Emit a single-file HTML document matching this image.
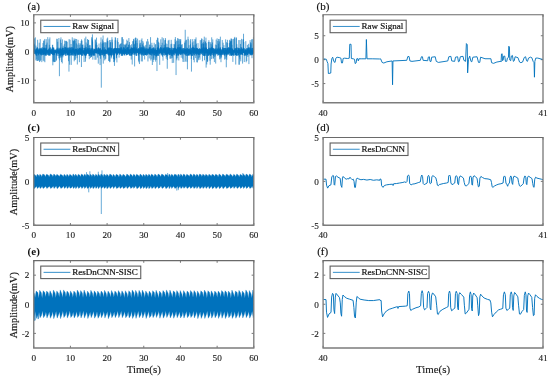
<!DOCTYPE html>
<html lang="en">
<head>
<meta charset="utf-8">
<title>Signal denoising comparison</title>
<style>
html,body{margin:0;padding:0;background:#fff;}
body{width:550px;height:379px;overflow:hidden;font-family:"Liberation Serif","DejaVu Serif",serif;}
svg{display:block;}
</style>
</head>
<body>
<svg width="550" height="379" viewBox="0 0 550 379">
<rect width="550" height="379" fill="#fff"/>
<g id="panel-a">
<clipPath id="cp-a"><rect x="33.75" y="14.7" width="220.05" height="88"/></clipPath>
<path d="M33.75 102.7v-2.2M33.75 14.7v2.2M70.42 102.7v-2.2M70.42 14.7v2.2M107.1 102.7v-2.2M107.1 14.7v2.2M143.78 102.7v-2.2M143.78 14.7v2.2M180.45 102.7v-2.2M180.45 14.7v2.2M217.13 102.7v-2.2M217.13 14.7v2.2M253.8 102.7v-2.2M253.8 14.7v2.2M33.75 80.21h2.2M253.8 80.21h-2.2M33.75 51.55h2.2M253.8 51.55h-2.2M33.75 22.9h2.2M253.8 22.9h-2.2" stroke="#777" stroke-width="1" fill="none"/>
<path clip-path="url(#cp-a)" fill="none" stroke="#0072BD" stroke-width="0.62" d="M34.1 51.55V43.57M34.48 51.55V38.37M34.51 51.55V44.52M35.35 51.55V37.36M35.82 51.55V60.36M35.98 51.55V45.59M36.75 51.55V59.36M36.93 51.55V60.95M37.44 51.55V61M37.63 51.55V39.77M38.63 51.55V60.31M38.8 51.55V60.8M39.25 51.55V42.69M39.56 51.55V62.04M40.23 51.55V39.12M40.36 51.55V61.19M40.9 51.55V60M41.82 51.55V62.14M42.96 51.55V43.07M43.18 51.55V60.71M43.58 51.55V40.72M44.05 51.55V61.3M44.22 51.55V40.48M44.75 51.55V38.94M44.87 51.55V62.23M45.81 51.55V44.96M46.22 51.55V39.17M46.42 51.55V44.54M47.02 51.55V42.52M47.75 51.55V37.15M49 51.55V39.27M49.32 51.55V44.84M49.87 51.55V37.37M52.44 51.55V44.86M52.74 51.55V44.83M52.82 51.55V65.31M53.05 51.55V61.65M53.67 51.55V61.53M53.96 51.55V62.13M54.5 51.55V62.05M55.25 51.55V61.98M56.16 51.55V61.12M56.44 51.55V59.88M56.91 51.55V38.7M57.14 51.55V39.11M57.72 51.55V41.79M58.81 51.55V58.43M58.9 51.55V38M59.42 51.55V76.19M59.76 51.55V60.3M60.02 51.55V57.93M60.32 51.55V57.29M60.52 51.55V39.53M60.95 51.55V37.38M61.24 51.55V42.92M61.49 51.55V62.06M61.74 51.55V57.39M62.25 51.55V63.4M62.36 51.55V39.37M62.92 51.55V57.29M63.15 51.55V45.71M64.28 51.55V44.15M64.74 51.55V40.5M65.37 51.55V40.94M66.31 51.55V41.34M66.65 51.55V40.8M67.19 51.55V41.87M68.49 51.55V61.21M68.96 51.55V71.61M69.1 51.55V39.12M69.67 51.55V64.72M70.05 51.55V39.71M71.05 51.55V44.01M71.26 51.55V64.92M72.25 51.55V37.31M72.82 51.55V40.34M73.59 51.55V41.16M73.79 51.55V40.65M74.09 51.55V38.37M74.19 51.55V61.33M74.5 51.55V39.65M74.84 51.55V60.09M74.98 51.55V41M75.34 51.55V59.67M75.6 51.55V38.8M76.39 51.55V43.45M76.63 51.55V39.01M77.03 51.55V58.21M77.33 51.55V64.5M77.82 51.55V44.58M78.1 51.55V39.83M78.93 51.55V43.09M79.4 51.55V62.19M79.81 51.55V44.72M80.33 51.55V43.4M81.11 51.55V40.94M81.43 51.55V67.02M81.55 51.55V39.36M82.02 51.55V40.61M82.19 51.55V44.97M82.6 51.55V44.84M82.96 51.55V44.48M84.08 51.55V62.03M84.79 51.55V38.45M85.15 51.55V45.43M85.48 51.55V61.7M85.69 51.55V58.26M85.83 51.55V36.65M86.14 51.55V42.44M87.36 51.55V43.85M87.57 51.55V39M88.16 51.55V39.89M88.63 51.55V40.03M88.97 51.55V45.81M89.29 51.55V59.2M89.62 51.55V44.87M90.2 51.55V45.22M90.49 51.55V57.89M91.17 51.55V57.08M91.46 51.55V57.03M91.8 51.55V37.12M92.03 51.55V38.45M92.43 51.55V34.36M92.44 51.55V40.1M92.63 51.55V41.73M92.85 51.55V59.66M94.98 51.55V59.75M95.18 51.55V39.32M95.41 51.55V40.2M95.69 51.55V44.48M96 51.55V59.71M96.48 51.55V37.62M96.63 51.55V42.38M97.01 51.55V44.88M97.6 51.55V57.65M98.29 51.55V63.67M99.02 51.55V43.52M100.09 51.55V65.08M100.46 51.55V58.8M100.84 51.55V42.35M101.03 51.55V37.42M101.31 51.55V87.66M102.19 51.55V43.99M102.45 51.55V39.46M102.75 51.55V42.84M103.07 51.55V35.5M103.15 51.55V41.37M103.25 51.55V63.63M103.6 51.55V57.56M103.88 51.55V43.02M104.24 51.55V42.06M104.69 51.55V60.44M105.22 51.55V59.4M105.5 51.55V42.3M105.83 51.55V58.73M106.27 51.55V42.44M107.04 51.55V38.58M107.33 51.55V40.76M107.65 51.55V37.55M107.98 51.55V41.18M108.77 51.55V60.97M109.07 51.55V60.77M109.43 51.55V40.07M109.7 51.55V62.23M109.97 51.55V61.71M110.29 51.55V42.67M110.63 51.55V42M110.86 51.55V39.98M111.21 51.55V58.45M111.43 51.55V57.21M111.94 51.55V37.21M112.27 51.55V39.56M112.34 51.55V42.4M113.41 51.55V58.94M113.69 51.55V62.14M114.08 51.55V58.85M114.33 51.55V61.75M114.44 51.55V65.88M114.78 51.55V60.29M115.1 51.55V40.21M115.21 51.55V37.25M115.61 51.55V37.72M116.33 51.55V58.37M116.55 51.55V57.75M116.9 51.55V62.4M117.21 51.55V40.4M117.68 51.55V38.07M118.17 51.55V42.01M119.09 51.55V57.61M119.45 51.55V44.65M120.21 51.55V43.6M120.69 51.55V43.99M121.29 51.55V43.17M121.77 51.55V37.22M122.46 51.55V37.15M123.23 51.55V39.22M123.72 51.55V44.3M124.66 51.55V44.54M125.16 51.55V45.03M125.36 51.55V45.37M125.94 51.55V43.87M126.23 51.55V43.47M126.82 51.55V39.65M127.63 51.55V40.85M128.5 51.55V44.92M128.86 51.55V38.07M129.09 51.55V44.36M129.53 51.55V42.09M130.4 51.55V45.23M131.23 51.55V59.58M131.59 51.55V44.26M132.21 51.55V64.53M132.81 51.55V41.15M133.25 51.55V41.29M133.58 51.55V38.88M133.87 51.55V39.54M134.35 51.55V44.46M134.61 51.55V66.45M134.73 51.55V43.68M135.13 51.55V38.13M135.47 51.55V41.11M135.69 51.55V37.42M135.99 51.55V38M136.24 51.55V40.38M137.05 51.55V43.11M137.56 51.55V38.63M138.59 51.55V60.71M138.85 51.55V62.31M139.25 51.55V40.28M139.44 51.55V64.06M139.83 51.55V43.36M140.11 51.55V44.88M140.69 51.55V42.76M141.18 51.55V39.74M141.3 51.55V61.38M141.94 51.55V38.37M142.35 51.55V61.47M142.55 51.55V44.4M142.85 51.55V40.99M143.26 51.55V42.6M143.55 51.55V45.75M144.65 51.55V59.51M144.83 51.55V45.76M145.83 51.55V44.87M146.5 51.55V41.43M147.63 51.55V38.99M147.95 51.55V61.47M148.24 51.55V41.5M149.24 51.55V58.43M149.58 51.55V44.69M150.08 51.55V44.51M150.56 51.55V37.15M150.89 51.55V60.5M151.13 51.55V59.22M151.86 51.55V42.77M152.09 51.55V45.23M152.34 51.55V64.99M153.13 51.55V62.07M153.38 51.55V59.98M153.76 51.55V58.42M154.16 51.55V42.74M154.87 51.55V59.75M155.23 51.55V44.58M155.63 51.55V61.65M155.78 51.55V44.09M156.16 51.55V59.99M156.38 51.55V57.17M156.77 51.55V39.88M156.98 51.55V71.04M157.48 51.55V37.61M158.02 51.55V38.15M158.43 51.55V45.42M158.61 51.55V41.73M158.92 51.55V42.89M159.71 51.55V64.86M160.78 51.55V39.3M161.25 51.55V45.13M162.11 51.55V37.22M162.18 51.55V42.75M162.53 51.55V56.83M163 51.55V60.65M163.36 51.55V38.24M164.13 51.55V44.78M164.72 51.55V40.19M165.01 51.55V44.73M165.36 51.55V37.99M165.48 51.55V39.67M165.93 51.55V43.34M166.21 51.55V58.74M166.41 51.55V56.83M167.05 51.55V43.94M167.25 51.55V68.74M167.42 51.55V59.97M168.23 51.55V40.52M169.01 51.55V39.82M170.05 51.55V58.72M170.32 51.55V58.64M170.93 51.55V44.2M171.21 51.55V39.83M171.55 51.55V58.44M171.8 51.55V43.7M172.25 51.55V63.04M172.61 51.55V57.73M173.66 51.55V62.82M174.02 51.55V43.98M174.44 51.55V44.44M175.06 51.55V39.2M175.36 51.55V37.08M175.61 51.55V42.13M176.05 51.55V75.05M176.39 51.55V40.67M176.63 51.55V58.64M176.8 51.55V60.3M177.18 51.55V58.18M177.53 51.55V38.15M177.97 51.55V40.84M178.12 51.55V44.84M178.55 51.55V38.63M178.8 51.55V60.48M179.13 51.55V44.05M179.81 51.55V39.1M180.04 51.55V39.35M180.27 51.55V41.31M180.75 51.55V39.3M181.06 51.55V44.9M181.2 51.55V57.75M181.73 51.55V44.6M182.17 51.55V44.15M182.69 51.55V58.68M182.96 51.55V61.89M184.03 51.55V61.98M184.7 51.55V42.84M185.01 51.55V41.4M185.22 51.55V29.77M185.64 51.55V61.65M186.12 51.55V40.16M186.28 51.55V39.69M186.99 51.55V61.77M187.42 51.55V69.32M188 51.55V36.67M188.17 51.55V39.12M189.07 51.55V45.2M190.23 51.55V40.37M190.47 51.55V44.23M190.72 51.55V39.01M191.27 51.55V59.16M191.45 51.55V71.61M192.31 51.55V42.41M192.73 51.55V39.17M193.2 51.55V45.35M193.45 51.55V59.9M193.85 51.55V41.33M194.21 51.55V62.34M194.8 51.55V39.13M195.11 51.55V44.84M195.58 51.55V39.45M195.71 51.55V58.09M196.01 51.55V37.39M196.5 51.55V43.59M196.75 51.55V62.28M197.43 51.55V62.41M198.03 51.55V43.11M198.29 51.55V58.55M198.63 51.55V60.22M199.55 51.55V57.52M199.96 51.55V59.73M200.25 51.55V40.17M201.21 51.55V40.1M201.51 51.55V44.09M201.64 51.55V38.3M202.04 51.55V38.96M202.42 51.55V61.28M202.75 51.55V43.3M203.01 51.55V43.48M203.28 51.55V41.9M203.52 51.55V43.93M203.9 51.55V39.77M204.29 51.55V36.65M204.5 51.55V60.25M204.85 51.55V43.29M205.25 51.55V41.36M205.59 51.55V41.84M205.94 51.55V37.64M206.12 51.55V67.6M206.41 51.55V43.21M206.78 51.55V64.47M206.97 51.55V59.36M207.49 51.55V61.81M207.7 51.55V61.43M208.32 51.55V42.01M208.88 51.55V40.2M209.19 51.55V41.94M209.97 51.55V60.67M210.21 51.55V64.68M210.64 51.55V42.26M211.12 51.55V44.07M211.58 51.55V59.12M211.69 51.55V37.33M212.21 51.55V45.46M212.44 51.55V42.46M212.77 51.55V39.4M213.16 51.55V58.51M213.38 51.55V58.56M214.39 51.55V62.07M214.83 51.55V56.99M215.35 51.55V44.58M215.68 51.55V63.58M216.15 51.55V39.59M216.62 51.55V45.16M217.13 51.55V38.37M217.82 51.55V41.03M218.35 51.55V43.63M218.73 51.55V38.97M219.12 51.55V39.08M219.32 51.55V41.41M219.59 51.55V59.37M220.03 51.55V57.36M220.37 51.55V36.66M220.71 51.55V58.7M220.98 51.55V62.19M221.57 51.55V57.51M222.26 51.55V39.98M223.16 51.55V42.73M224.01 51.55V45.16M224.71 51.55V59.65M225.23 51.55V58.86M225.67 51.55V39.34M226.29 51.55V67.31M226.36 51.55V57.25M226.67 51.55V42.13M226.79 51.55V59.78M227.21 51.55V43.04M227.45 51.55V39.83M229.32 51.55V43.11M229.72 51.55V39.8M230.05 51.55V40.43M230.4 51.55V41.7M230.78 51.55V41.06M231.06 51.55V38.5M231.4 51.55V38.67M231.58 51.55V40.77M231.97 51.55V44.85M232.16 51.55V39.11M232.86 51.55V61.91M233.63 51.55V38.94M234.4 51.55V37.78M234.81 51.55V36.87M235.72 51.55V64.56M236.1 51.55V38.26M236.43 51.55V37.38M236.88 51.55V44.19M238.81 51.55V40.07M239.11 51.55V64.59M239.13 51.55V64.73M239.34 51.55V57.34M239.86 51.55V59.33M240.05 51.55V40.01M240.44 51.55V43.96M240.77 51.55V61.33M241.59 51.55V38.84M242.58 51.55V63.61M243.05 51.55V39.53M243.24 51.55V39.32M243.53 51.55V33.78M243.8 51.55V42.02M244.27 51.55V62.03M245.79 51.55V41.17M246.17 51.55V62.3M246.74 51.55V61.01M247.39 51.55V44.88M247.86 51.55V56.98M248.62 51.55V43.82M248.91 51.55V64.1M250.1 51.55V40.14M250.54 51.55V42.27M250.88 51.55V44.65M251.05 51.55V43.19M251.65 51.55V39.41M251.99 51.55V58.2M252.33 51.55V39.17M253.43 51.55V37.22M253.56 51.55V42.59"/>
<polyline clip-path="url(#cp-a)" fill="none" stroke="#0072BD" stroke-width="0.6" stroke-linejoin="round" points="33.75,49.67 33.92,52.81 34.09,48.5 34.26,52.53 34.43,48.91 34.6,53.58 34.77,50.63 34.94,54.08 35.11,50.7 35.27,53.82 35.44,50.58 35.61,52.59 35.78,49.31 35.95,55.23 36.12,50.39 36.29,53.07 36.46,48.59 36.63,55.66 36.8,48.77 36.97,53.69 37.14,47.34 37.31,52.43 37.48,47.76 37.65,53.3 37.82,50.32 37.98,52.69 38.15,49.73 38.32,55.19 38.49,50.19 38.66,54.35 38.83,48.55 39,53.6 39.17,48.87 39.34,52.49 39.51,50.62 39.68,53 39.85,48.4 40.02,53.8 40.19,49.71 40.36,54.36 40.53,49.21 40.7,53.34 40.86,47.99 41.03,54.77 41.2,49.96 41.37,54.32 41.54,48.95 41.71,55.4 41.88,48.22 42.05,53.3 42.22,47.32 42.39,52.69 42.56,49.34 42.73,54.98 42.9,50.29 43.07,54.02 43.24,50.69 43.41,54.66 43.58,48.1 43.74,54.32 43.91,47.7 44.08,53.39 44.25,48.34 44.42,54.4 44.59,48.76 44.76,53.9 44.93,47.83 45.1,55.65 45.27,49.14 45.44,54.65 45.61,50.62 45.78,54.78 45.95,48.52 46.12,55.82 46.29,47.89 46.45,53.29 46.62,49.45 46.79,54.66 46.96,50.75 47.13,53.92 47.3,50.23 47.47,52.69 47.64,50.62 47.81,55.02 47.98,50.37 48.15,53.15 48.32,49.43 48.49,55.39 48.66,50.55 48.83,53.88 49,48.87 49.17,55.43 49.33,47.9 49.5,55.36 49.67,49.84 49.84,53.75 50.01,49.55 50.18,55.43 50.35,47.4 50.52,52.81 50.69,50.2 50.86,53.1 51.03,50 51.2,54 51.37,48.72 51.54,53.21 51.71,50.82 51.88,53.77 52.05,49.51 52.21,54.3 52.38,47.42 52.55,54.74 52.72,48.99 52.89,54.48 53.06,48.41 53.23,52.46 53.4,47.61 53.57,55.06 53.74,47.7 53.91,55.12 54.08,49.43 54.25,53.7 54.42,50.46 54.59,54.54 54.76,50.61 54.92,52.51 55.09,50.09 55.26,52.85 55.43,49.62 55.6,52.46 55.77,50.83 55.94,52.81 56.11,50.47 56.28,53.57 56.45,50.74 56.62,55.4 56.79,48.63 56.96,52.8 57.13,49.93 57.3,53.51 57.47,49.53 57.64,52.71 57.8,47.79 57.97,55.82 58.14,49.17 58.31,54 58.48,50.53 58.65,52.63 58.82,49.61 58.99,53.22 59.16,47.87 59.33,52.85 59.5,50.75 59.67,55.67 59.84,48.94 60.01,52.79 60.18,48.89 60.35,52.36 60.52,48.94 60.68,55.77 60.85,47.74 61.02,54.76 61.19,49.9 61.36,53.58 61.53,50.24 61.7,55.03 61.87,48.93 62.04,55.06 62.21,49.65 62.38,53.07 62.55,47.93 62.72,55.79 62.89,47.78 63.06,55.15 63.23,47.9 63.39,54.92 63.56,50.02 63.73,54.12 63.9,49.56 64.07,52.37 64.24,50.73 64.41,53.27 64.58,49.91 64.75,54.75 64.92,47.41 65.09,53.87 65.26,47.48 65.43,55.81 65.6,47.41 65.77,53.57 65.94,50.04 66.11,53.08 66.27,50.13 66.44,53 66.61,48.6 66.78,55.49 66.95,47.82 67.12,53.98 67.29,48.5 67.46,55.13 67.63,50.53 67.8,54.63 67.97,47.58 68.14,55.07 68.31,48.15 68.48,53.98 68.65,50.19 68.82,55.09 68.99,49.64 69.15,55.14 69.32,47.35 69.49,53.68 69.66,49.4 69.83,55.66 70,48.24 70.17,52.88 70.34,50.38 70.51,52.81 70.68,47.59 70.85,55.16 71.02,50.31 71.19,55.23 71.36,47.32 71.53,54.62 71.7,49.58 71.86,54.23 72.03,50.36 72.2,52.32 72.37,47.36 72.54,54.59 72.71,48.95 72.88,55.61 73.05,49.28 73.22,55.39 73.39,47.87 73.56,53.02 73.73,49.93 73.9,53.32 74.07,49.97 74.24,54.37 74.41,49.91 74.58,53.77 74.74,50.36 74.91,55.53 75.08,49.57 75.25,53.91 75.42,48.74 75.59,55.51 75.76,49.33 75.93,55.55 76.1,49.04 76.27,54.17 76.44,48.96 76.61,52.33 76.78,49.26 76.95,52.92 77.12,50.82 77.29,55.13 77.46,50.22 77.62,53.96 77.79,48.24 77.96,54.26 78.13,49.67 78.3,54.12 78.47,48.84 78.64,55.08 78.81,50.45 78.98,54.27 79.15,49.94 79.32,53.26 79.49,48.07 79.66,54.09 79.83,48.82 80,54.99 80.17,47.57 80.33,53.85 80.5,48.64 80.67,54.08 80.84,49 81.01,54.75 81.18,49.21 81.35,54.18 81.52,49.12 81.69,55.64 81.86,48.33 82.03,55.41 82.2,47.46 82.37,53.2 82.54,48.83 82.71,55.65 82.88,47.83 83.05,52.76 83.21,50.4 83.38,53.85 83.55,50.57 83.72,53.13 83.89,50.57 84.06,54.66 84.23,48.03 84.4,55.48 84.57,50.28 84.74,54.83 84.91,48.47 85.08,52.78 85.25,47.67 85.42,55.73 85.59,50.05 85.76,55.68 85.93,49.41 86.09,54.01 86.26,47.29 86.43,55.25 86.6,50.26 86.77,53.81 86.94,48.99 87.11,53.48 87.28,50.13 87.45,53.41 87.62,48.25 87.79,52.34 87.96,48.85 88.13,53.84 88.3,50.77 88.47,53.45 88.64,48.6 88.8,54.1 88.97,50.6 89.14,55.8 89.31,48.01 89.48,55.75 89.65,50.46 89.82,53.22 89.99,50.69 90.16,55.06 90.33,49.87 90.5,52.73 90.67,49.32 90.84,55.53 91.01,47.9 91.18,53.19 91.35,50.3 91.52,55.56 91.68,48.79 91.85,54.78 92.02,50.51 92.19,52.47 92.36,48.37 92.53,53.79 92.7,50.57 92.87,55.63 93.04,48.56 93.21,55.14 93.38,50.53 93.55,55.33 93.72,50.6 93.89,55.36 94.06,49.21 94.23,53.48 94.4,48.85 94.56,55.59 94.73,49.87 94.9,52.73 95.07,48.95 95.24,53.12 95.41,50.44 95.58,52.85 95.75,50.65 95.92,52.99 96.09,49.72 96.26,53.36 96.43,48.11 96.6,53.31 96.77,49.04 96.94,52.9 97.11,49.59 97.27,52.33 97.44,49.94 97.61,52.32 97.78,48.21 97.95,54.24 98.12,50.16 98.29,53.97 98.46,47.49 98.63,52.65 98.8,47.9 98.97,53.81 99.14,49.06 99.31,55.26 99.48,49.43 99.65,54.08 99.82,48.37 99.99,55.79 100.15,49.61 100.32,55.25 100.49,48.3 100.66,54.54 100.83,49.38 101,53.51 101.17,50.64 101.34,52.73 101.51,50.58 101.68,54.92 101.85,49.92 102.02,52.85 102.19,50.53 102.36,55.28 102.53,47.72 102.7,54.67 102.87,49.82 103.03,53.13 103.2,49.78 103.37,53.91 103.54,50.27 103.71,53.86 103.88,49.89 104.05,55.71 104.22,47.35 104.39,54.23 104.56,49.96 104.73,55.73 104.9,49.73 105.07,53.54 105.24,50.83 105.41,53.63 105.58,49.13 105.74,54.07 105.91,50.11 106.08,54.07 106.25,50.82 106.42,53.21 106.59,50.51 106.76,53.7 106.93,50.68 107.1,52.35 107.27,49.74 107.44,53.1 107.61,48.74 107.78,54.16 107.95,48.15 108.12,54.62 108.29,48.27 108.46,55.42 108.62,49.44 108.79,53.44 108.96,47.31 109.13,52.8 109.3,48.24 109.47,54.57 109.64,50.68 109.81,55.26 109.98,47.64 110.15,54.51 110.32,48.21 110.49,55.18 110.66,50.34 110.83,54.14 111,49.03 111.17,55.26 111.33,47.95 111.5,55.23 111.67,48.74 111.84,55.46 112.01,48.39 112.18,54.75 112.35,50.01 112.52,52.38 112.69,50.36 112.86,53.56 113.03,50.46 113.2,55.26 113.37,48.83 113.54,54.52 113.71,48.59 113.88,54.7 114.05,49.08 114.21,52.28 114.38,47.98 114.55,54.95 114.72,49.03 114.89,54.18 115.06,48.47 115.23,52.5 115.4,48.2 115.57,53.17 115.74,50.57 115.91,53.22 116.08,48.22 116.25,53 116.42,48.18 116.59,55.76 116.76,49.06 116.93,53.64 117.09,49.12 117.26,54.72 117.43,48.09 117.6,54.48 117.77,48.53 117.94,52.54 118.11,50.31 118.28,53.18 118.45,48.17 118.62,53.36 118.79,48.8 118.96,52.31 119.13,50.62 119.3,53.23 119.47,48.43 119.64,54.75 119.8,48.41 119.97,53.31 120.14,48.98 120.31,53.93 120.48,49.16 120.65,52.69 120.82,47.63 120.99,52.98 121.16,47.33 121.33,55.62 121.5,50.77 121.67,53.91 121.84,47.9 122.01,55.73 122.18,49.22 122.35,53.23 122.52,50.08 122.68,55.65 122.85,50.08 123.02,54.35 123.19,50.33 123.36,54.14 123.53,47.42 123.7,52.74 123.87,47.9 124.04,54.09 124.21,47.66 124.38,54.79 124.55,50.01 124.72,55.48 124.89,49.09 125.06,52.36 125.23,50.82 125.4,54.03 125.56,49.22 125.73,53.35 125.9,50.33 126.07,53.5 126.24,49.7 126.41,55.28 126.58,50.83 126.75,54.96 126.92,47.83 127.09,52.7 127.26,47.52 127.43,54.82 127.6,47.6 127.77,53.31 127.94,49.5 128.11,53.67 128.27,47.26 128.44,54.38 128.61,49.54 128.78,53.8 128.95,49.85 129.12,52.44 129.29,50.47 129.46,55.26 129.63,49.81 129.8,55.62 129.97,49.94 130.14,53.22 130.31,49 130.48,52.95 130.65,49.5 130.82,55.69 130.99,47.67 131.15,55.18 131.32,48.57 131.49,55.54 131.66,47.46 131.83,54.23 132,48.26 132.17,52.44 132.34,48.21 132.51,53.88 132.68,48.14 132.85,54.58 133.02,49.81 133.19,52.44 133.36,47.51 133.53,52.72 133.7,49.14 133.87,53.5 134.03,49.77 134.2,54.91 134.37,47.34 134.54,53.2 134.71,48.48 134.88,53.34 135.05,48.84 135.22,53.68 135.39,50.23 135.56,52.85 135.73,50.09 135.9,55.51 136.07,49.05 136.24,53.06 136.41,47.59 136.58,55.84 136.74,49.22 136.91,52.77 137.08,50.14 137.25,52.59 137.42,49.61 137.59,52.59 137.76,49.98 137.93,53.19 138.1,48.79 138.27,55.44 138.44,48.15 138.61,53.75 138.78,49.35 138.95,54.14 139.12,49.48 139.29,53.48 139.46,50.61 139.62,53.26 139.79,47.37 139.96,52.72 140.13,49.03 140.3,54.52 140.47,47.74 140.64,53.04 140.81,49.86 140.98,53.16 141.15,49.4 141.32,53.86 141.49,47.42 141.66,55.31 141.83,47.71 142,52.35 142.17,50.72 142.34,54.81 142.5,47.63 142.67,53.96 142.84,48.73 143.01,52.27 143.18,49.43 143.35,55.59 143.52,47.88 143.69,55.33 143.86,47.35 144.03,53.16 144.2,50.44 144.37,52.82 144.54,48.96 144.71,54.71 144.88,47.46 145.05,54.85 145.21,48.52 145.38,55.01 145.55,49.2 145.72,54.24 145.89,50.69 146.06,55.07 146.23,50 146.4,55.56 146.57,48.52 146.74,53.36 146.91,50.38 147.08,53.17 147.25,48.56 147.42,54.77 147.59,50.43 147.76,52.52 147.93,48.96 148.09,54.35 148.26,49.44 148.43,53.07 148.6,48.68 148.77,52.3 148.94,49.75 149.11,53.92 149.28,47.4 149.45,54.58 149.62,47.67 149.79,53.97 149.96,49.99 150.13,53.15 150.3,47.39 150.47,54.79 150.64,49.73 150.81,52.34 150.97,49.05 151.14,54.68 151.31,49.33 151.48,53.19 151.65,48.44 151.82,55.58 151.99,50.02 152.16,52.39 152.33,49.62 152.5,53.77 152.67,48.39 152.84,52.98 153.01,47.98 153.18,54.91 153.35,49.03 153.52,53 153.68,47.36 153.85,53.38 154.02,47.9 154.19,53.09 154.36,50.04 154.53,54.99 154.7,49.78 154.87,55.68 155.04,49.06 155.21,52.94 155.38,50.03 155.55,53.76 155.72,48.45 155.89,55.67 156.06,50.31 156.23,53.68 156.4,50.07 156.56,55.76 156.73,50.33 156.9,52.45 157.07,50.62 157.24,53.68 157.41,47.62 157.58,55.43 157.75,48.21 157.92,55.84 158.09,47.5 158.26,53.45 158.43,50.17 158.6,55.62 158.77,48.16 158.94,52.38 159.11,48.45 159.28,53.62 159.44,49.49 159.61,53.46 159.78,50.23 159.95,52.28 160.12,49.83 160.29,53.53 160.46,47.41 160.63,52.71 160.8,47.38 160.97,53.01 161.14,49.56 161.31,55.21 161.48,47.89 161.65,53.82 161.82,50.66 161.99,53.96 162.15,49.5 162.32,55.56 162.49,50.14 162.66,53.57 162.83,47.62 163,52.38 163.17,49.36 163.34,55.17 163.51,48.09 163.68,52.41 163.85,50.71 164.02,52.49 164.19,47.54 164.36,53.19 164.53,48.16 164.7,55.49 164.87,49.62 165.03,53.24 165.2,47.4 165.37,54.48 165.54,49.9 165.71,54.83 165.88,49.7 166.05,53.25 166.22,50.82 166.39,54.97 166.56,47.55 166.73,54.54 166.9,47.46 167.07,52.35 167.24,50 167.41,53.97 167.58,47.41 167.75,55.68 167.91,49.45 168.08,53.17 168.25,49.29 168.42,54.03 168.59,47.51 168.76,52.92 168.93,47.96 169.1,54.91 169.27,47.89 169.44,55.04 169.61,48.66 169.78,53.44 169.95,49.69 170.12,53.56 170.29,48.03 170.46,52.55 170.62,50.13 170.79,54.96 170.96,49.95 171.13,52.5 171.3,50.71 171.47,54.25 171.64,49.67 171.81,55.78 171.98,47.67 172.15,55.81 172.32,49.89 172.49,52.57 172.66,50.49 172.83,54.05 173,48.29 173.17,53.87 173.34,50 173.5,53.76 173.67,48.61 173.84,54.68 174.01,48.15 174.18,55.3 174.35,48.45 174.52,52.7 174.69,47.82 174.86,53.32 175.03,48.8 175.2,53.6 175.37,48.19 175.54,52.98 175.71,49.95 175.88,53.15 176.05,50.28 176.22,55.43 176.38,48.76 176.55,53.44 176.72,49.42 176.89,55.82 177.06,49.02 177.23,53.1 177.4,47.94 177.57,54.61 177.74,47.28 177.91,52.63 178.08,49.13 178.25,55.2 178.42,47.82 178.59,55.54 178.76,50.69 178.93,53.32 179.09,50.41 179.26,52.95 179.43,47.35 179.6,54.36 179.77,47.5 179.94,53.6 180.11,47.73 180.28,53.88 180.45,49.9 180.62,55.05 180.79,47.45 180.96,52.65 181.13,48.7 181.3,54.49 181.47,50.05 181.64,53.59 181.81,50.33 181.97,53 182.14,49.92 182.31,54.41 182.48,48.5 182.65,53 182.82,50.79 182.99,53.44 183.16,48.4 183.33,52.93 183.5,49.72 183.67,53 183.84,47.99 184.01,54.23 184.18,50.61 184.35,52.63 184.52,49.42 184.68,54.24 184.85,48.54 185.02,52.59 185.19,50.25 185.36,54.76 185.53,49.37 185.7,53.28 185.87,49.73 186.04,55.68 186.21,49.72 186.38,54.3 186.55,49.55 186.72,53.76 186.89,47.74 187.06,55.84 187.23,49.53 187.4,52.97 187.56,48.23 187.73,53 187.9,50.81 188.07,55.5 188.24,49.32 188.41,55.21 188.58,49.38 188.75,55.43 188.92,49.18 189.09,52.85 189.26,50.78 189.43,54.24 189.6,48.54 189.77,55.53 189.94,50.52 190.11,54.5 190.28,49.51 190.44,54.07 190.61,50.31 190.78,53.28 190.95,48.97 191.12,55.58 191.29,50.44 191.46,54.02 191.63,47.95 191.8,55.73 191.97,50.13 192.14,52.72 192.31,47.46 192.48,55.76 192.65,49.11 192.82,52.46 192.99,47.52 193.15,53.66 193.32,47.6 193.49,54.49 193.66,47.88 193.83,52.84 194,48.02 194.17,53.06 194.34,49.39 194.51,55.3 194.68,47.86 194.85,52.92 195.02,50.05 195.19,53.7 195.36,48.98 195.53,53.64 195.7,50.39 195.87,53.15 196.03,48.24 196.2,55.48 196.37,50.69 196.54,54.28 196.71,48.12 196.88,52.4 197.05,47.83 197.22,52.69 197.39,48.69 197.56,54.24 197.73,48.59 197.9,53.36 198.07,49.33 198.24,54.35 198.41,49.31 198.58,54.63 198.75,49.23 198.91,53.84 199.08,50.75 199.25,54.48 199.42,49.08 199.59,53.11 199.76,48.1 199.93,55.06 200.1,49.19 200.27,52.91 200.44,49.14 200.61,52.65 200.78,50.37 200.95,53.81 201.12,50.51 201.29,53.85 201.46,49.01 201.62,52.41 201.79,48.55 201.96,52.56 202.13,48.21 202.3,55.05 202.47,49 202.64,52.46 202.81,49.03 202.98,53.62 203.15,47.43 203.32,52.75 203.49,47.76 203.66,55.83 203.83,48.21 204,55.19 204.17,50.14 204.34,55.78 204.5,49.07 204.67,55.69 204.84,47.55 205.01,52.86 205.18,48.01 205.35,55.6 205.52,50.6 205.69,53.52 205.86,48.13 206.03,52.84 206.2,47.62 206.37,53.25 206.54,47.91 206.71,52.78 206.88,49.04 207.05,55.56 207.22,50.09 207.38,53.21 207.55,49.02 207.72,53.41 207.89,50.7 208.06,52.92 208.23,50.26 208.4,55.62 208.57,48.4 208.74,55.47 208.91,50.23 209.08,55.08 209.25,50.42 209.42,54.17 209.59,48.55 209.76,53.56 209.93,47.71 210.09,54.26 210.26,48.76 210.43,55.43 210.6,50.46 210.77,55.82 210.94,48.58 211.11,53.68 211.28,47.98 211.45,53.22 211.62,47.29 211.79,54.33 211.96,49.54 212.13,55.01 212.3,49.25 212.47,52.9 212.64,48.17 212.81,52.44 212.97,47.9 213.14,53.18 213.31,48.54 213.48,55.79 213.65,48.74 213.82,54.64 213.99,49.71 214.16,52.27 214.33,50.71 214.5,52.8 214.67,48.63 214.84,53.82 215.01,49 215.18,55.47 215.35,50.36 215.52,53.08 215.69,48.49 215.85,52.35 216.02,50.82 216.19,53.54 216.36,50.45 216.53,53.55 216.7,50.03 216.87,54.36 217.04,48.72 217.21,53 217.38,48.6 217.55,53.97 217.72,50.35 217.89,55.62 218.06,49.96 218.23,52.8 218.4,50.49 218.56,54.55 218.73,47.71 218.9,55.07 219.07,49.39 219.24,53.21 219.41,50.79 219.58,54.58 219.75,48.82 219.92,53.52 220.09,48.52 220.26,53.86 220.43,47.48 220.6,54.89 220.77,49.94 220.94,55.5 221.11,50.68 221.28,54.17 221.44,49.38 221.61,53.12 221.78,50.63 221.95,55.06 222.12,50.79 222.29,54.24 222.46,47.46 222.63,52.78 222.8,50.12 222.97,54.45 223.14,49.02 223.31,54.56 223.48,47.92 223.65,52.89 223.82,49.73 223.99,53.34 224.16,50.66 224.32,55.45 224.49,48.03 224.66,54.83 224.83,50.81 225,55.29 225.17,48.16 225.34,53.93 225.51,48.18 225.68,53.89 225.85,50.02 226.02,52.64 226.19,50 226.36,52.41 226.53,49.63 226.7,54.95 226.87,48.34 227.03,55.29 227.2,48.28 227.37,53.22 227.54,48.85 227.71,53.83 227.88,48.01 228.05,54.14 228.22,49.88 228.39,54.57 228.56,47.38 228.73,53.04 228.9,47.68 229.07,52.32 229.24,49.9 229.41,53.11 229.58,48.17 229.75,55.65 229.91,48.16 230.08,53.44 230.25,47.68 230.42,53.44 230.59,49.98 230.76,55.52 230.93,48.58 231.1,54.75 231.27,48.45 231.44,55.77 231.61,49.15 231.78,55.27 231.95,48.34 232.12,55.34 232.29,49.27 232.46,54.86 232.63,48.79 232.79,53.37 232.96,50.07 233.13,54.5 233.3,50.56 233.47,55.53 233.64,50.32 233.81,52.36 233.98,50.45 234.15,55.59 234.32,49.6 234.49,52.77 234.66,50.73 234.83,52.42 235,48.35 235.17,54.54 235.34,48.34 235.5,54.91 235.67,50.6 235.84,54.38 236.01,49.53 236.18,55.2 236.35,47.9 236.52,55.46 236.69,50.6 236.86,55.38 237.03,47.56 237.2,55.65 237.37,50.45 237.54,53 237.71,50.43 237.88,52.39 238.05,47.8 238.22,55.18 238.38,48.56 238.55,55.22 238.72,48.57 238.89,53.3 239.06,50.48 239.23,52.62 239.4,48.12 239.57,53 239.74,49.69 239.91,53.78 240.08,50.76 240.25,53.19 240.42,49.82 240.59,54.83 240.76,49.52 240.93,53.42 241.1,47.38 241.26,54.07 241.43,47.78 241.6,54.48 241.77,50.72 241.94,53.75 242.11,49.27 242.28,55.04 242.45,49.59 242.62,54.79 242.79,48.91 242.96,53.04 243.13,47.75 243.3,52.59 243.47,47.9 243.64,52.88 243.81,50.83 243.97,52.99 244.14,48.1 244.31,55.77 244.48,50.82 244.65,54.02 244.82,49.07 244.99,55.12 245.16,50.17 245.33,54.04 245.5,49.59 245.67,55.25 245.84,49.9 246.01,55.65 246.18,49.82 246.35,53.04 246.52,48.33 246.69,54.05 246.85,50.44 247.02,54.55 247.19,50.54 247.36,55.09 247.53,48.34 247.7,55.09 247.87,48.58 248.04,53.54 248.21,49.4 248.38,53.68 248.55,47.64 248.72,52.58 248.89,47.65 249.06,52.36 249.23,50.1 249.4,53.21 249.57,47.61 249.73,54.06 249.9,49.48 250.07,55.43 250.24,50 250.41,53.92 250.58,48.93 250.75,54.97 250.92,48.14 251.09,54.58 251.26,49.59 251.43,53.44 251.6,50.28 251.77,55.29 251.94,48.46 252.11,54.92 252.28,50.23 252.44,53.84 252.61,48.06 252.78,54.34 252.95,50.38 253.12,53.92 253.29,47.66 253.46,53.12 253.63,50.15 253.8,53.35"/>
<path d="M33.75 14.7V102.7H253.8V14.7" fill="none" stroke="#7c7c7c" stroke-width="1.35" stroke-linejoin="miter"/>
<path d="M33.15 14.7H254.4" fill="none" stroke="#6a6a6a" stroke-width="1.05"/>
<g font-family='"Liberation Serif", "DejaVu Serif", serif' font-size="9.2" fill="#1a1a1a" stroke="#1a1a1a" stroke-width="0.12">
<text x="33.75" y="115.7" text-anchor="middle">0</text>
<text x="70.42" y="115.7" text-anchor="middle">10</text>
<text x="107.1" y="115.7" text-anchor="middle">20</text>
<text x="143.78" y="115.7" text-anchor="middle">30</text>
<text x="180.45" y="115.7" text-anchor="middle">40</text>
<text x="217.13" y="115.7" text-anchor="middle">50</text>
<text x="253.8" y="115.7" text-anchor="middle">60</text>
<text x="29.45" y="83.51" text-anchor="end">-10</text>
<text x="29.45" y="54.85" text-anchor="end">0</text>
<text x="29.45" y="26.2" text-anchor="end">10</text>
</g>
<rect x="40.75" y="20.2" width="77.3" height="12.5" fill="#fff" stroke="#5e5e5e" stroke-width="1.1"/>
<path d="M43.55 26.45h26.8" stroke="#0072BD" stroke-width="0.8" fill="none"/>
<text x="72.15" y="29.45" font-family='"Liberation Serif", "DejaVu Serif", serif' font-size="9" fill="#111" stroke="#111" stroke-width="0.2">Raw Signal</text>
</g>
<g id="panel-b">
<clipPath id="cp-b"><rect x="323.1" y="14.7" width="219.9" height="88"/></clipPath>
<path d="M323.1 102.7v-2.2M323.1 14.7v2.2M543 102.7v-2.2M543 14.7v2.2M323.1 83.57h2.2M543 83.57h-2.2M323.1 59.66h2.2M543 59.66h-2.2M323.1 35.74h2.2M543 35.74h-2.2" stroke="#777" stroke-width="1" fill="none"/>
<polyline clip-path="url(#cp-b)" fill="none" stroke="#0072BD" stroke-width="0.92" stroke-linejoin="round" points="323.48,58.81 326.33,59.29 327.12,61.66 327.92,63.56 328.39,73.54 330.77,73.06 331.08,64.04 331.87,58.5 332.66,57.23 333.93,61.66 335.04,62.45 335.83,58.18 337.1,57.23 339.79,57.7 340.9,58.18 341.53,62.93 342.48,62.93 343.11,58.5 344.54,58.18 347.7,58.5 349.29,58.18 349.76,44.25 351.03,44.25 351.35,58.5 353.25,58.81 354.51,59.29 355.15,63.56 356.09,62.93 356.73,58.81 357.68,58.5 358.31,60.87 358.94,58.81 361.16,58.81 365.91,58.81 366.39,39.5 367.02,58.81 372.24,58.81 379.53,58.97 380.64,58.85 382.1,62.41 383.77,63.04 386.91,61.78 392.14,60.95 392.55,84.78 392.97,60.95 406.77,60.32 407.82,56.55 409.07,56.55 409.91,60.95 412,61.36 420.36,60.32 421.41,56.76 422.45,56.76 423.08,60.32 427.68,60.74 428.31,57.18 429.35,56.76 430,61.36 431.05,61.36 431.67,57.18 435.23,56.76 436.27,61.36 438.36,62.41 447.77,60.95 448.82,56.76 450.91,56.35 451.75,60.95 454.67,61.36 455.51,57.18 457.6,56.76 458.44,61.78 459.27,61.36 460.32,56.76 463.04,56.35 463.87,60.32 465.55,61.36 466.38,43.59 467.22,44.64 467.64,72.86 468.47,59.27 469.73,56.14 470.98,61.36 471.82,61.78 472.86,57.18 477.05,56.76 478.51,62.41 479.76,62.41 480.6,57.18 485,58.74 490.93,58.74 491.59,62.69 493.57,63.35 496.87,62.03 500.56,61.37 501.09,62.03 501.48,54.12 502.14,53.73 502.54,60.71 503.2,60.05 503.73,56.1 504.78,56.1 505.44,61.37 506.76,61.37 507.42,58.08 508.47,57.42 508.74,46.21 509.4,46.87 509.79,60.05 510.71,60.71 511.37,56.1 512.43,55.44 513.35,61.37 514.27,60.71 515.07,56.76 517.97,57.68 519.55,62.03 520.87,62.69 522.58,62.03 524.3,57.42 525.62,56.76 526.54,60.71 527.46,61.37 528.52,58.08 530.49,57.15 531.81,57.68 533.13,61.37 534.05,62.69 534.45,77.2 534.85,61.37 535.77,58.08 537.75,58.08 541.04,59 542.76,59.4"/>
<path d="M323.1 14.7V102.7H543V14.7" fill="none" stroke="#7c7c7c" stroke-width="1.35" stroke-linejoin="miter"/>
<path d="M322.5 14.7H543.6" fill="none" stroke="#6a6a6a" stroke-width="1.05"/>
<g font-family='"Liberation Serif", "DejaVu Serif", serif' font-size="9.2" fill="#1a1a1a" stroke="#1a1a1a" stroke-width="0.12">
<text x="323.1" y="115.7" text-anchor="middle">40</text>
<text x="543" y="115.7" text-anchor="middle">41</text>
<text x="318.8" y="86.87" text-anchor="end">-5</text>
<text x="318.8" y="62.96" text-anchor="end">0</text>
<text x="318.8" y="39.04" text-anchor="end">5</text>
</g>
<rect x="330.1" y="20.2" width="76.1" height="12.5" fill="#fff" stroke="#5e5e5e" stroke-width="1.1"/>
<path d="M332.9 26.45h26.8" stroke="#0072BD" stroke-width="0.8" fill="none"/>
<text x="361.5" y="29.45" font-family='"Liberation Serif", "DejaVu Serif", serif' font-size="9" fill="#111" stroke="#111" stroke-width="0.2">Raw Signal</text>
</g>
<g id="panel-c">
<clipPath id="cp-c"><rect x="33.75" y="137.5" width="220.05" height="87.75"/></clipPath>
<path d="M33.75 225.25v-2.2M33.75 137.5v2.2M70.42 225.25v-2.2M70.42 137.5v2.2M107.1 225.25v-2.2M107.1 137.5v2.2M143.78 225.25v-2.2M143.78 137.5v2.2M180.45 225.25v-2.2M180.45 137.5v2.2M217.13 225.25v-2.2M217.13 137.5v2.2M253.8 225.25v-2.2M253.8 137.5v2.2M33.75 225.25h2.2M253.8 225.25h-2.2M33.75 181.38h2.2M253.8 181.38h-2.2M33.75 137.5h2.2M253.8 137.5h-2.2" stroke="#777" stroke-width="1" fill="none"/>
<polygon clip-path="url(#cp-c)" fill="#0072BD" stroke="#0072BD" stroke-width="0.3" stroke-linejoin="round" points="32.99,176.83 33.97,174.18 35.54,175.22 36.26,176.89 37.1,174.36 38.45,175.12 39.07,176.7 39.87,174.3 41.13,175.15 41.72,176.73 42.8,174.04 44.53,174.85 45.33,176.67 46.47,174.33 48.3,175.07 49.13,176.95 50.28,173.96 52.1,174.96 52.94,176.76 53.81,174.08 55.19,175.05 55.82,176.57 56.87,174.3 58.55,175.44 59.31,176.58 60.5,174.16 62.39,175.27 63.26,176.97 64.11,174.3 65.48,175.44 66.11,176.86 66.91,174.26 68.17,175.37 68.75,176.85 69.82,174.31 71.52,175.44 72.3,176.72 73.06,173.91 74.27,174.95 74.83,176.6 75.57,174.05 76.75,175.42 77.29,176.7 78.26,174.18 79.82,175.18 80.53,176.67 81.45,174.01 82.94,175.02 83.62,176.81 84.34,174.17 85.5,174.84 86.03,176.78 87.06,174.22 88.69,175.05 89.44,176.69 90.19,174.35 91.39,174.99 91.94,176.85 92.83,174.07 94.26,175.2 94.92,176.74 95.65,174.24 96.82,175.02 97.36,176.8 98.17,174.22 99.47,174.89 100.06,176.6 100.99,173.98 102.48,175.04 103.16,176.94 103.99,174.15 105.32,174.95 105.92,176.62 106.78,174.2 108.14,175.33 108.77,176.87 109.87,174.06 111.63,175.09 112.44,177 113.23,174.34 114.51,175.38 115.09,176.9 116.25,174.25 118.12,175.35 118.97,176.89 119.86,173.93 121.27,175.19 121.92,176.68 123.07,174.33 124.92,175.39 125.76,176.92 126.84,174.04 128.57,175.24 129.36,176.84 130.37,174.02 131.99,175.36 132.74,176.75 133.55,174.28 134.85,174.94 135.45,177 136.57,174.19 138.35,175.36 139.17,176.8 140.14,174.12 141.7,175.31 142.41,176.97 143.19,174.35 144.44,175.36 145.01,176.84 145.88,174.2 147.28,175.19 147.91,176.74 148.69,174.23 149.94,175.07 150.51,176.64 151.52,174.08 153.14,175.33 153.88,176.67 154.84,174.1 156.37,175.26 157.07,176.97 158.13,174.1 159.81,175.09 160.59,176.63 161.74,174.02 163.58,175.12 164.42,176.63 165.57,174.21 167.4,175.28 168.24,176.93 168.96,174.26 170.12,174.86 170.65,176.99 171.46,174.29 172.75,174.91 173.34,176.73 174.51,174.27 176.4,174.85 177.26,176.65 178.03,174.33 179.27,174.87 179.83,176.92 180.67,174.02 182.01,175.21 182.62,176.84 183.53,174.09 184.99,174.88 185.65,176.93 186.73,174.22 188.46,175.3 189.25,176.58 190.28,173.97 191.92,174.89 192.68,176.67 193.61,173.99 195.1,175 195.79,176.68 196.62,174.34 197.95,175.01 198.56,176.88 199.56,174 201.16,174.84 201.89,176.85 202.79,174.26 204.22,174.92 204.87,176.61 205.82,174.28 207.33,175.18 208.02,176.66 208.93,174.35 210.39,175.12 211.06,176.55 212.1,174.3 213.78,174.98 214.54,176.6 215.6,174.32 217.29,174.99 218.07,176.96 219.14,173.94 220.85,175.35 221.63,177 222.68,174.06 224.35,175.1 225.12,176.82 226.29,174.15 228.18,174.9 229.04,176.58 230.19,173.95 232.02,175.41 232.86,176.69 233.73,174.2 235.1,175.33 235.74,176.75 236.78,173.95 238.45,175.14 239.21,176.92 240.2,174.2 241.79,175.22 242.52,176.57 243.3,173.97 244.54,175.04 245.12,176.79 246.15,174.05 247.8,174.94 248.55,176.66 249.53,174.07 251.1,174.99 251.82,176.89 252.78,174.26 254.32,175.05 255.03,176.84 256.12,174.29 257.86,174.9 258.12,187.53 256.48,188.76 255.39,185.92 254.55,187.28 253.1,188.62 252.14,185.95 251.33,187.57 249.86,188.41 248.88,185.97 248.04,187.15 246.49,188.48 245.46,185.83 244.73,187.27 243.56,188.53 242.78,186.12 242.02,187.21 240.54,188.4 239.54,185.88 238.69,187.19 237.13,188.48 236.08,185.96 235.31,187.02 234.01,188.46 233.15,185.92 232.29,187.15 230.57,188.45 229.43,185.97 228.45,187.53 226.69,188.5 225.51,185.92 224.59,187.25 223.03,188.71 221.98,186.02 221.1,187.25 219.49,188.64 218.42,185.93 217.54,187.35 215.95,188.66 214.89,186.19 214.02,187.49 212.45,188.68 211.41,185.89 210.6,187.17 209.24,188.69 208.32,185.9 207.55,187.09 206.13,188.48 205.19,186.02 204.42,187.24 203.08,188.58 202.19,186.25 201.39,187.5 199.89,188.63 198.89,186.02 198.14,187.09 196.9,188.61 196.06,186.12 195.32,187.41 193.92,188.54 192.99,185.89 192.16,187.29 190.62,188.39 189.59,186.14 188.71,187.31 187.09,188.57 186.01,186.1 185.2,187.35 183.83,188.36 182.92,186.03 182.2,187.38 180.95,188.62 180.11,186.14 179.45,187.1 178.29,188.55 177.52,185.95 176.67,187.17 174.91,188.57 173.73,186.15 172.93,187.1 171.72,188.5 170.92,186.18 170.29,187.07 169.21,188.76 168.48,185.84 167.67,187.25 165.95,188.75 164.8,186.05 163.85,187.2 162.12,188.43 160.97,185.86 160.06,187.38 158.48,188.38 157.43,186.2 156.59,187.28 155.16,188.69 154.2,186.01 153.37,187.38 151.86,188.61 150.85,186.08 150.12,187.38 148.95,188.72 148.17,185.84 147.48,187.4 146.17,188.71 145.3,185.96 144.62,187.41 143.45,188.57 142.67,185.84 141.93,187.52 140.47,188.78 139.49,185.8 138.61,187.44 136.94,188.68 135.82,185.82 135.04,187.12 133.82,188.39 133.01,186.16 132.23,187.39 130.71,188.45 129.69,186.01 128.82,187.04 127.2,188.61 126.12,186.04 125.19,187.59 123.46,188.54 122.3,186.2 121.48,187.57 120.15,188.44 119.27,185.93 118.39,187.43 116.64,188.57 115.48,186.1 114.69,187.03 113.5,188.6 112.7,186.24 111.89,187.05 110.24,188.62 109.14,185.99 108.34,187.42 107.06,188.74 106.21,185.96 105.51,187.49 104.27,188.42 103.44,186.16 102.7,187.33 101.3,188.4 100.37,186.09 99.66,187.1 98.44,188.65 97.63,185.94 96.99,187.46 95.9,188.44 95.16,185.9 94.47,187.14 93.13,188.63 92.23,185.94 91.56,187.41 90.44,188.53 89.69,186.01 88.93,187.59 87.4,188.47 86.38,186.12 85.67,187.56 84.58,188.52 83.86,186.08 83.15,187.27 81.76,188.57 80.84,186.24 80.04,187.3 78.59,188.38 77.62,186.08 76.92,187.32 75.81,188.63 75.07,186.2 74.45,187.51 73.31,188.53 72.56,185.98 71.77,187.41 70.17,188.35 69.11,186.03 68.36,187.57 67.17,188.52 66.38,185.82 65.68,187.35 64.4,188.44 63.54,185.84 62.67,187.26 60.89,188.43 59.71,185.9 58.79,187.08 57.22,188.73 56.17,186.1 55.39,187.06 54.09,188.54 53.23,186.06 52.37,187.22 50.66,188.6 49.52,186.23 48.56,187.04 46.85,188.6 45.71,186.16 44.79,187.17 43.16,188.59 42.08,186.19 41.32,187.56 40.13,188.5 39.34,186.13 38.65,187.22 37.39,188.59 36.54,186.18 35.77,187.1 34.3,188.79 33.32,185.83"/>
<path clip-path="url(#cp-c)" fill="none" stroke="#0072BD" stroke-width="0.6" d="M101.31 181.38V214.02M88.76 181.38V192.34M86.56 181.38V172.16M89.86 181.38V171.28M98.3 181.38V171.72M101.97 181.38V170.41M176.78 181.38V190.59M178.25 181.38V190.15M242.8 181.38V173.04M167.61 181.38V173.04"/>
<path d="M33.75 137.5V225.25H253.8V137.5" fill="none" stroke="#7c7c7c" stroke-width="1.35" stroke-linejoin="miter"/>
<path d="M33.15 137.5H254.4" fill="none" stroke="#6a6a6a" stroke-width="1.05"/>
<g font-family='"Liberation Serif", "DejaVu Serif", serif' font-size="9.2" fill="#1a1a1a" stroke="#1a1a1a" stroke-width="0.12">
<text x="33.75" y="238.25" text-anchor="middle">0</text>
<text x="70.42" y="238.25" text-anchor="middle">10</text>
<text x="107.1" y="238.25" text-anchor="middle">20</text>
<text x="143.78" y="238.25" text-anchor="middle">30</text>
<text x="180.45" y="238.25" text-anchor="middle">40</text>
<text x="217.13" y="238.25" text-anchor="middle">50</text>
<text x="253.8" y="238.25" text-anchor="middle">60</text>
<text x="29.45" y="228.55" text-anchor="end">-5</text>
<text x="29.45" y="184.68" text-anchor="end">0</text>
<text x="29.45" y="141.4" text-anchor="end">5</text>
</g>
<rect x="40.75" y="143" width="77.9" height="12.5" fill="#fff" stroke="#5e5e5e" stroke-width="1.1"/>
<path d="M43.55 149.25h26.8" stroke="#0072BD" stroke-width="0.8" fill="none"/>
<text x="72.15" y="152.25" font-family='"Liberation Serif", "DejaVu Serif", serif' font-size="9" fill="#111" stroke="#111" stroke-width="0.2">ResDnCNN</text>
</g>
<g id="panel-d">
<clipPath id="cp-d"><rect x="323.1" y="137.5" width="219.9" height="87.75"/></clipPath>
<path d="M323.1 225.25v-2.2M323.1 137.5v2.2M543 225.25v-2.2M543 137.5v2.2M323.1 225.25h2.2M543 225.25h-2.2M323.1 181.38h2.2M543 181.38h-2.2M323.1 137.5h2.2M543 137.5h-2.2" stroke="#777" stroke-width="1" fill="none"/>
<polyline clip-path="url(#cp-d)" fill="none" stroke="#0072BD" stroke-width="0.95" stroke-linejoin="round" points="323.27,179.18 326,179.18 326.55,185.18 327.64,188.13 328.95,185.73 330.91,184.85 331.78,177 332.87,175.36 333.64,175.91 334.18,184.64 334.73,185.18 335.49,176.45 336.36,175.91 338,177.22 340.18,178.31 340.95,185.18 341.82,187.36 342.47,178.09 343.13,176.45 344.55,178.09 346.18,179.18 347.82,178.64 348.91,178.96 350,177.22 351.09,178.64 352.18,179.73 353.27,179.18 354.04,181.36 354.69,187.36 355.45,187.36 356.22,179.73 357.09,178.09 358.73,178.96 360.91,179.73 363.64,179.4 366.91,180.05 370.18,179.51 373.45,180.27 376.73,179.84 379.78,180.27 380,178.96 381.09,179.4 381.64,185.73 383.05,187.36 384.36,185.51 386.55,184.85 389.82,184.42 392.55,184.2 393.09,185.51 393.64,183.76 396.36,183.55 399.64,183 402.91,182.45 404.55,181.91 406.18,182.45 407.05,181.36 407.49,175.91 408.58,175.04 409.24,176.45 409.67,183.55 411.09,184.85 412.73,184.09 414.91,183.76 417.09,183 418.73,182.45 420.36,181.91 421.02,177 421.78,175.04 422.55,176.45 423.2,183.55 424.18,184.64 425.82,183.76 427.13,183 427.78,176.45 428.55,175.36 429.31,177 429.75,183 430.4,183.76 431.27,183 431.93,176.45 432.91,175.69 434.55,176.78 435.85,177.87 436.73,181.36 437.38,185.18 438.36,185.73 439.45,184.42 440,184.42 443.27,183.55 446.55,183 448.18,182.45 448.73,175.91 449.6,175.04 450.36,176.45 450.91,183 452,184.64 453.64,183.76 454.73,183 455.49,176.45 456.36,175.69 457.24,177 457.78,183.55 458.55,184.64 459.2,178.09 460.18,175.91 461.82,176.78 463.45,178.09 464.22,182.45 465.09,185.51 466.18,185.95 467.82,184.64 468.91,183.55 469.67,177 470.55,175.91 471.42,177.55 471.96,184.64 472.51,185.18 473.05,177 474.04,175.69 475.45,176.78 477.09,178.31 477.75,183.55 478.4,186.82 479.27,186.27 479.93,178.09 480.91,176.45 482.55,177.55 484.73,178.64 488,178.96 490.73,179.73 491.49,182.45 492.15,186.82 492.91,187.36 494.55,185.95 496.73,184.85 498.91,184.09 500.91,183.76 503.09,183 503.64,177 504.51,175.91 505.27,177 505.93,183 506.91,184.64 507.67,186.27 508.33,184.09 509.42,183 510.07,177.55 510.73,175.91 511.38,177 512.04,183 512.69,184.42 513.24,178.09 514,176.13 515.64,176.78 517.82,178.09 518.58,182.45 519.45,185.73 520.55,186.27 522.18,184.85 523.27,183.76 524.04,178.09 524.91,175.91 525.78,177.22 526.33,184.09 526.87,184.64 527.42,177.87 528.4,176.13 530.15,177.22 532,178.64 532.76,183.55 533.42,186.82 534.07,187.36 534.73,179.18 535.6,177.22 536.91,178.09 539.09,178.64 541.27,179.18 543.13,179.73"/>
<path d="M323.1 137.5V225.25H543V137.5" fill="none" stroke="#7c7c7c" stroke-width="1.35" stroke-linejoin="miter"/>
<path d="M322.5 137.5H543.6" fill="none" stroke="#6a6a6a" stroke-width="1.05"/>
<g font-family='"Liberation Serif", "DejaVu Serif", serif' font-size="9.2" fill="#1a1a1a" stroke="#1a1a1a" stroke-width="0.12">
<text x="323.1" y="238.25" text-anchor="middle">40</text>
<text x="543" y="238.25" text-anchor="middle">41</text>
<text x="318.8" y="228.55" text-anchor="end">-5</text>
<text x="318.8" y="184.68" text-anchor="end">0</text>
<text x="318.8" y="141.4" text-anchor="end">5</text>
</g>
<rect x="330.1" y="143" width="77.9" height="12.5" fill="#fff" stroke="#5e5e5e" stroke-width="1.1"/>
<path d="M332.9 149.25h26.8" stroke="#0072BD" stroke-width="0.8" fill="none"/>
<text x="361.5" y="152.25" font-family='"Liberation Serif", "DejaVu Serif", serif' font-size="9" fill="#111" stroke="#111" stroke-width="0.2">ResDnCNN</text>
</g>
<g id="panel-e">
<clipPath id="cp-e"><rect x="33.75" y="260.6" width="220.05" height="87.35"/></clipPath>
<path d="M33.75 347.95v-2.2M33.75 260.6v2.2M70.42 347.95v-2.2M70.42 260.6v2.2M107.1 347.95v-2.2M107.1 260.6v2.2M143.78 347.95v-2.2M143.78 260.6v2.2M180.45 347.95v-2.2M180.45 260.6v2.2M217.13 347.95v-2.2M217.13 260.6v2.2M253.8 347.95v-2.2M253.8 260.6v2.2M33.75 333.39h2.2M253.8 333.39h-2.2M33.75 304.27h2.2M253.8 304.27h-2.2M33.75 275.16h2.2M253.8 275.16h-2.2" stroke="#777" stroke-width="1" fill="none"/>
<polygon clip-path="url(#cp-e)" fill="#0072BD" stroke="#0072BD" stroke-width="0.3" stroke-linejoin="round" points="31.6,297.21 32.65,291.07 34.33,293.62 35.1,297.39 36.16,291.02 37.86,292.58 38.64,298.18 39.68,290.17 41.35,292.85 42.11,298.03 43.16,290.67 44.85,292.6 45.62,296.98 46.64,290.99 48.26,292.87 49.01,297.03 50.03,290.76 51.65,293.99 52.4,298.02 53.41,289.98 55.04,292.89 55.78,297.81 56.81,290.92 58.45,293.19 59.2,296.99 60.2,289.93 61.82,293.63 62.56,297.48 63.58,289.91 65.22,292.47 65.98,297.04 67.03,291.07 68.71,292.96 69.48,297.27 70.49,290.89 72.11,293.82 72.85,297.44 73.87,291.04 75.51,292.95 76.27,297.98 77.29,290 78.93,292.64 79.68,296.97 80.69,290.56 82.3,293.06 83.03,297.67 84.07,289.97 85.72,293.91 86.48,297.29 87.49,291.08 89.11,293.44 89.85,297.15 90.86,290.27 92.48,293.14 93.23,297.59 94.26,290.81 95.91,293.19 96.67,296.97 97.69,291.09 99.34,293.43 100.09,297.23 101.11,290.98 102.75,292.99 103.49,297.25 104.54,290.35 106.21,293.56 106.98,297.83 108.03,291.08 109.7,293.47 110.47,297.36 111.49,290.48 113.12,293.75 113.87,297.28 114.91,290.93 116.58,292.97 117.35,297.01 118.41,290.55 120.11,293.27 120.89,297.34 121.93,290.8 123.58,293.6 124.34,297.68 125.39,290.68 127.06,293.68 127.82,297.65 128.84,290.71 130.46,292.75 131.2,297.92 132.24,289.97 133.89,292.61 134.65,297.62 135.65,290.37 137.26,293.41 138,297.7 139.01,290.25 140.61,293.07 141.35,297.44 142.35,290.02 143.96,293.3 144.7,297.68 145.76,290.91 147.44,293.46 148.22,297.01 149.26,291.11 150.92,293.4 151.68,297.5 152.69,290.67 154.31,292.62 155.05,297.92 156.08,290.26 157.73,294 158.49,297.88 159.53,291.12 161.19,293.21 161.96,297.84 162.99,290.49 164.65,292.59 165.4,297.17 166.46,289.92 168.14,293.27 168.91,297.87 169.93,290.09 171.56,294.03 172.31,297.45 173.35,290.83 175.02,292.59 175.79,297.83 176.81,290.56 178.45,293.16 179.21,297.89 180.21,290.47 181.82,293.91 182.56,297.67 183.61,290.62 185.3,293.57 186.07,297.71 187.1,290.96 188.74,292.72 189.49,297.34 190.55,290.44 192.24,292.87 193.01,297.52 194.05,290.52 195.7,292.94 196.46,297.91 197.47,290.92 199.08,293.7 199.82,296.96 200.88,290.77 202.59,292.47 203.37,297.31 204.43,290.07 206.13,292.88 206.91,298 207.94,290.67 209.59,292.46 210.34,297.48 211.35,290.82 212.96,293.85 213.7,297.59 214.74,291.07 216.41,293.01 217.17,297.57 218.22,291.03 219.89,293.31 220.65,297.27 221.67,290.54 223.3,292.61 224.05,297.31 225.07,290.72 226.69,292.53 227.43,297.9 228.47,290.99 230.14,293.19 230.9,298.13 231.95,290.09 233.63,293.97 234.4,297.37 235.46,290.92 237.17,292.62 237.95,297.44 238.97,290.33 240.61,293.03 241.36,297.66 242.42,290.96 244.1,293.25 244.88,298.08 245.9,289.94 247.55,292.73 248.3,298.2 249.36,290.49 251.04,293.87 251.81,298.01 252.82,290.1 254.44,293.01 255.18,297.85 256.2,290.1 257.83,292.87 258.07,315.49 256.54,318.13 255.52,311.08 254.67,315.3 253.16,317.66 252.15,311.26 251.28,314.8 249.71,318.19 248.66,311.53 247.79,314.78 246.25,317.65 245.22,310.85 244.35,314.37 242.77,318.02 241.71,311.5 240.85,314.52 239.31,317.72 238.29,310.96 237.42,315.17 235.82,318.28 234.75,311.54 233.88,315.36 232.3,318.44 231.25,311.61 230.38,315.49 228.82,317.76 227.78,311.18 226.93,315.34 225.4,318.59 224.39,311.59 223.54,314.38 222.01,318.26 220.99,311.08 220.13,314.67 218.56,318.39 217.52,311.54 216.65,315.3 215.09,317.87 214.05,310.87 213.2,315.04 211.69,318.19 210.68,310.96 209.83,315.43 208.29,318.25 207.26,310.93 206.38,314.58 204.79,318.52 203.72,311.89 202.84,314.52 201.24,318.44 200.17,311.8 199.32,314.4 197.8,318.67 196.8,311.59 195.94,314.26 194.39,318.01 193.36,310.98 192.49,315.31 190.9,317.62 189.85,311.73 188.98,315.44 187.44,317.72 186.41,311.15 185.54,314.1 183.96,318.13 182.91,311.55 182.06,315.52 180.55,318.05 179.54,311.85 178.69,314.61 177.16,317.82 176.13,311.23 175.27,314.7 173.7,318.34 172.66,311.7 171.8,314.79 170.27,317.98 169.25,311.15 168.39,314.3 166.81,317.59 165.76,311.12 164.89,315.08 163.34,318.17 162.3,311.54 161.44,313.98 159.87,318.32 158.83,311.29 157.97,314.1 156.42,317.56 155.39,311.25 154.55,314.95 153.03,317.64 152.02,311.55 151.16,315.54 149.6,317.64 148.56,311.22 147.69,314.6 146.11,318.53 145.05,311.24 144.2,314.03 142.69,318.01 141.68,311.2 140.85,314.95 139.34,317.71 138.34,310.94 137.5,314.11 135.99,318.42 134.98,311.5 134.13,315.23 132.58,318.48 131.55,311.18 130.7,315.47 129.18,317.95 128.16,311.61 127.3,315.5 125.73,317.85 124.69,311.55 123.82,314.62 122.27,317.78 121.24,311 120.36,314.06 118.77,317.71 117.7,311 116.82,314.45 115.26,317.67 114.21,311.8 113.36,314.99 111.83,317.75 110.81,311.57 109.94,314.68 108.37,318.69 107.33,311.49 106.46,314.32 104.89,318.12 103.84,311.13 102.98,314.44 101.45,317.78 100.43,311.73 99.58,315.4 98.04,318.3 97.01,311.39 96.15,315.31 94.6,318.22 93.57,311.14 92.72,314 91.2,317.69 90.19,311.98 89.34,314.85 87.83,318.57 86.81,311.73 85.96,314.22 84.41,318.12 83.38,310.84 82.53,314.23 81.02,318 80.01,311.08 79.17,315.28 77.63,317.52 76.61,311.62 75.75,315.05 74.22,318.05 73.19,311.9 72.34,315.4 70.83,317.58 69.82,310.84 68.96,314.31 67.38,318.08 66.33,311.22 65.46,315.23 63.92,317.57 62.9,311.01 62.05,314.3 60.54,318.68 59.53,311.8 58.68,314.43 57.15,318.13 56.12,311.17 55.27,314.47 53.75,318.7 52.74,311.51 51.89,314.97 50.37,318.35 49.35,311.86 48.5,314.47 46.98,318.06 45.96,311.94 45.09,315.21 43.51,317.67 42.46,310.8 41.59,315.29 40.03,317.79 38.99,311.89 38.11,314.68 36.52,318.41 35.46,311.36 34.58,314.8 33,318.67 31.95,311.89"/>
<path clip-path="url(#cp-e)" fill="none" stroke="#0072BD" stroke-width="0.6" d="M34.12 304.27V320.73M34.67 304.27V320.73M35.22 304.27V320.29M37.97 304.27V319.12M38.52 304.27V318.83"/>
<path d="M33.75 260.6V347.95H253.8V260.6" fill="none" stroke="#7c7c7c" stroke-width="1.35" stroke-linejoin="miter"/>
<path d="M33.15 260.6H254.4" fill="none" stroke="#6a6a6a" stroke-width="1.05"/>
<g font-family='"Liberation Serif", "DejaVu Serif", serif' font-size="9.2" fill="#1a1a1a" stroke="#1a1a1a" stroke-width="0.12">
<text x="33.75" y="360.95" text-anchor="middle">0</text>
<text x="70.42" y="360.95" text-anchor="middle">10</text>
<text x="107.1" y="360.95" text-anchor="middle">20</text>
<text x="143.78" y="360.95" text-anchor="middle">30</text>
<text x="180.45" y="360.95" text-anchor="middle">40</text>
<text x="217.13" y="360.95" text-anchor="middle">50</text>
<text x="253.8" y="360.95" text-anchor="middle">60</text>
<text x="29.45" y="336.69" text-anchor="end">-2</text>
<text x="29.45" y="307.57" text-anchor="end">0</text>
<text x="29.45" y="278.46" text-anchor="end">2</text>
</g>
<rect x="40.75" y="266.1" width="100" height="12.5" fill="#fff" stroke="#5e5e5e" stroke-width="1.1"/>
<path d="M43.55 272.35h26.8" stroke="#0072BD" stroke-width="0.8" fill="none"/>
<text x="72.15" y="275.35" font-family='"Liberation Serif", "DejaVu Serif", serif' font-size="9" fill="#111" stroke="#111" stroke-width="0.2">ResDnCNN-SISC</text>
</g>
<g id="panel-f">
<clipPath id="cp-f"><rect x="323.1" y="260.6" width="219.9" height="87.35"/></clipPath>
<path d="M323.1 347.95v-2.2M323.1 260.6v2.2M543 347.95v-2.2M543 260.6v2.2M323.1 333.39h2.2M543 333.39h-2.2M323.1 304.27h2.2M543 304.27h-2.2M323.1 275.16h2.2M543 275.16h-2.2" stroke="#777" stroke-width="1" fill="none"/>
<polyline clip-path="url(#cp-f)" fill="none" stroke="#0072BD" stroke-width="0.95" stroke-linejoin="round" points="323.25,299.41 326.03,299.64 326.5,312.17 327.54,317.4 329.05,313.91 331.03,312.41 331.61,297.09 332.53,293.37 333.35,294.19 333.93,309.85 334.62,313.57 335.32,297.09 336.02,293.37 337.41,295 339.5,297.67 340.31,302.89 340.89,313.33 341.59,316.24 342.28,299.41 342.98,295 344.37,296.51 346.69,298.25 349.59,299.18 353.08,300.34 353.89,307.53 354.58,316.82 355.4,317.98 356.21,302.89 356.91,296.51 358.3,297.67 360.04,299.18 364.1,299.99 368.74,300.57 373.38,300.57 379.77,299.64 380,300.34 381.16,300.57 381.62,311.01 382.55,316.82 384.06,313.91 386.38,311.01 389.28,309.27 392.77,308.11 396.25,306.95 397.41,306.6 397.99,308.46 398.57,306.6 402.05,306.37 405.53,306.14 407.27,305.79 407.85,293.61 408.78,291.05 409.48,293.61 409.94,308.11 410.75,310.43 412.5,309.27 415.98,307.76 418.88,306.95 420.62,305.79 421.32,293.61 422.13,290.7 422.94,293.61 423.64,307.53 424.56,309.85 425.84,308.69 427,307.53 427.58,293.61 428.51,291.28 429.44,293.61 430.14,308.11 430.83,309.85 431.53,295.93 432.46,293.03 433.97,294.19 435.71,296.85 436.63,305.21 437.45,313.91 438.26,314.5 439.19,312.41 440,311.25 442.9,309.27 446.38,307.53 448.12,306.6 448.7,293.61 449.52,291.05 450.21,293.61 450.68,307.53 451.61,310.78 453.35,309.27 454.85,308.11 455.44,293.61 456.25,291.28 457.18,293.61 457.64,307.53 458.34,309.85 458.92,294.77 459.73,292.68 461.47,294.53 463.79,297.09 464.37,305.21 465.18,313.91 466.11,313.33 467.85,311.01 469.01,309.27 469.59,294.77 470.41,291.86 471.1,294.77 471.57,308.69 472.26,311.01 472.73,295.93 473.66,293.03 475.4,295 477.14,297.67 477.72,305.21 478.53,315.66 479.23,313.33 479.81,297.09 480.62,294.19 482.01,295.93 484.1,298.02 487.58,299.41 489.9,299.99 490.83,302.89 491.64,312.17 492.46,316.82 493.97,314.5 496.29,311.94 498.61,309.85 500.44,309.27 502.77,308.46 503.46,294.77 504.39,291.86 505.32,294.77 505.9,308.11 506.83,310.43 508.57,309.27 509.73,308.11 510.31,294.77 511.24,291.86 512.05,294.77 512.51,307.53 513.21,310.43 513.79,295.93 514.6,292.44 516.11,294.19 517.85,296.85 518.55,305.21 519.48,313.91 520.41,314.26 521.91,311.59 523.66,309.62 524.35,295.35 525.28,291.86 525.98,294.77 526.56,311.01 527.14,312.41 527.72,295.93 528.53,293.03 530.04,294.77 531.78,297.32 532.59,307.53 533.4,315.66 534.1,315.08 534.68,298.25 535.49,294.77 537,296.51 539.32,298.25 541.64,299.41 543.04,299.64"/>
<path d="M323.1 260.6V347.95H543V260.6" fill="none" stroke="#7c7c7c" stroke-width="1.35" stroke-linejoin="miter"/>
<path d="M322.5 260.6H543.6" fill="none" stroke="#6a6a6a" stroke-width="1.05"/>
<g font-family='"Liberation Serif", "DejaVu Serif", serif' font-size="9.2" fill="#1a1a1a" stroke="#1a1a1a" stroke-width="0.12">
<text x="323.1" y="360.95" text-anchor="middle">40</text>
<text x="543" y="360.95" text-anchor="middle">41</text>
<text x="318.8" y="336.69" text-anchor="end">-2</text>
<text x="318.8" y="307.57" text-anchor="end">0</text>
<text x="318.8" y="278.46" text-anchor="end">2</text>
</g>
<rect x="330.1" y="266.1" width="98.95" height="12.5" fill="#fff" stroke="#5e5e5e" stroke-width="1.1"/>
<path d="M332.9 272.35h26.8" stroke="#0072BD" stroke-width="0.8" fill="none"/>
<text x="361.5" y="275.35" font-family='"Liberation Serif", "DejaVu Serif", serif' font-size="9" fill="#111" stroke="#111" stroke-width="0.2">ResDnCNN-SISC</text>
</g>
<text x="27.6" y="9.6" font-family='"Liberation Serif", "DejaVu Serif", serif' font-size="11" font-weight="normal" fill="#111" stroke="#111" stroke-width="0.15">(a)</text>
<text x="316.5" y="9.6" font-family='"Liberation Serif", "DejaVu Serif", serif' font-size="11" font-weight="normal" fill="#111" stroke="#111" stroke-width="0.15">(b)</text>
<text x="27.6" y="130.8" font-family='"Liberation Serif", "DejaVu Serif", serif' font-size="11" font-weight="bold" fill="#111" stroke="#111" stroke-width="0">(c)</text>
<text x="316.6" y="130.8" font-family='"Liberation Serif", "DejaVu Serif", serif' font-size="11" font-weight="normal" fill="#111" stroke="#111" stroke-width="0.15">(d)</text>
<text x="27.6" y="254.9" font-family='"Liberation Serif", "DejaVu Serif", serif' font-size="11" font-weight="bold" fill="#111" stroke="#111" stroke-width="0">(e)</text>
<text x="317.2" y="254.9" font-family='"Liberation Serif", "DejaVu Serif", serif' font-size="11" font-weight="normal" fill="#111" stroke="#111" stroke-width="0.15">(f)</text>
<text x="143.78" y="373.3" text-anchor="middle" font-family='"Liberation Serif", "DejaVu Serif", serif' font-size="10.9" fill="#1a1a1a" stroke="#1a1a1a" stroke-width="0.15">Time(s)</text>
<text x="433.05" y="373.3" text-anchor="middle" font-family='"Liberation Serif", "DejaVu Serif", serif' font-size="10.9" fill="#1a1a1a" stroke="#1a1a1a" stroke-width="0.15">Time(s)</text>
<text transform="translate(12.6 59.2) rotate(-90)" text-anchor="middle" font-family='"Liberation Serif", "DejaVu Serif", serif' font-size="10.3" fill="#1a1a1a" stroke="#1a1a1a" stroke-width="0.15">Amplitude(mV)</text>
<text transform="translate(17.2 182.1) rotate(-90)" text-anchor="middle" font-family='"Liberation Serif", "DejaVu Serif", serif' font-size="10.3" fill="#1a1a1a" stroke="#1a1a1a" stroke-width="0.15">Amplitude(mV)</text>
<text transform="translate(17.2 305.2) rotate(-90)" text-anchor="middle" font-family='"Liberation Serif", "DejaVu Serif", serif' font-size="10.3" fill="#1a1a1a" stroke="#1a1a1a" stroke-width="0.15">Amplitude(mV)</text>
</svg>
</body>
</html>
